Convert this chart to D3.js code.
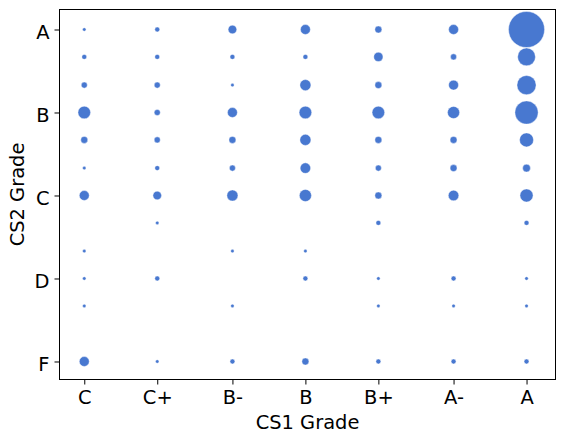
<!DOCTYPE html>
<html>
<head>
<meta charset="utf-8">
<script src="https://cdn.jsdelivr.net/npm/d3@7"></script>
<style>
  body { margin: 0; background: #fff; }
  svg text { font-family: "DejaVu Sans", sans-serif; fill: #000; }
</style>
</head>
<body>
<svg id="chart" width="565" height="442"></svg>
<script>
// CS1 grade (x) and CS2 grade (y) categories, with their grade points
const cs1Grades = ["C", "C+", "B-", "B", "B+", "A-", "A"];
const cs1Points = [2, 2.33, 2.67, 3, 3.33, 3.67, 4];
const cs2Grades = ["A", "A-", "B+", "B", "B-", "C+", "C", "C-", "D+", "D", "D-", "F"];
const cs2Points = [4, 3.67, 3.33, 3, 2.67, 2.33, 2, 1.67, 1.33, 1, 0.67, 0];
const yTickLabels = ["A", "B", "C", "D", "F"];
const yTickPoints = [4, 3, 2, 1, 0];

// student counts per CS1 column, rows in cs2Grades order
const countsC      = [1, 2, 3, 13, 4, 1, 8, 0, 1, 1, 1, 8];
const countsCplus  = [2, 2, 3, 3, 3, 2, 6, 1, 0, 2, 0, 1];
const countsBminus = [6, 2, 1, 8, 4, 3, 10, 0, 1, 0, 1, 2];
const countsB      = [8, 2, 10, 13, 10, 9, 12, 0, 1, 2, 0, 4];
const countsBplus  = [4, 7, 4, 13, 4, 3, 4, 2, 0, 1, 1, 2];
const countsAminus = [8, 3, 8, 12, 4, 4, 9, 0, 0, 2, 1, 2];
const countsA      = [106, 26, 30, 44, 16, 5, 14, 2, 0, 1, 1, 2];

(function() {
    const columns = [countsC, countsCplus, countsBminus, countsB, countsBplus, countsAminus, countsA];
    const points = [];
    columns.forEach((col, i) => {
        col.forEach((n, j) => {
            if (n > 0) points.push({ x: cs1Points[i], y: cs2Points[j], n: n });
        });
    });

    const fontSize = "19.44px";
    const plot = { left: 59.5, right: 555.5, top: 9.5, bottom: 379.5 };
    const svg = d3.select("#chart");

    const x = d3.scaleLinear().domain([1.888, 4.131]).range([plot.left, plot.right]);
    const y = d3.scaleLinear().domain([-0.217, 4.241]).range([plot.bottom, plot.top]);
    const r = d3.scaleSqrt().domain([0, 106]).range([0, 18]);

    // bubbles, biggest first so small ones stay on top
    svg.append("g")
        .selectAll("circle")
        .data(points.sort((a, b) => b.n - a.n))
        .enter().append("circle")
        .attr("cx", d => x(d.x))
        .attr("cy", d => y(d.y))
        .attr("r", d => r(d.n))
        .attr("fill", "#4878d0")
        .attr("stroke", "#fff")
        .attr("stroke-width", 0.4);

    const xAxis = d3.axisBottom(x)
        .tickValues(cs1Points)
        .tickFormat((d, i) => cs1Grades[i])
        .tickSize(5).tickPadding(4);
    const gx = svg.append("g")
        .attr("transform", `translate(0,${plot.bottom})`)
        .call(xAxis);

    const yAxis = d3.axisLeft(y)
        .tickValues(yTickPoints)
        .tickFormat((d, i) => yTickLabels[i])
        .tickSize(5).tickPadding(5);
    const gy = svg.append("g")
        .attr("transform", `translate(${plot.left},0)`)
        .call(yAxis);

    [gx, gy].forEach(g => {
        g.select(".domain").remove();
        g.selectAll("text").attr("font-size", fontSize).attr("fill", "#000");
        g.selectAll("line").attr("stroke", "#000").attr("stroke-width", 1);
    });
    gx.selectAll("text").attr("dy", "0.8em");
    gy.selectAll("text").attr("dy", "0.46em");

    // frame
    svg.append("rect")
        .attr("x", plot.left)
        .attr("y", plot.top)
        .attr("width", plot.right - plot.left)
        .attr("height", plot.bottom - plot.top)
        .attr("fill", "none")
        .attr("stroke", "#000")
        .attr("stroke-width", 1);

    svg.append("text")
        .attr("x", (plot.left + plot.right) / 2)
        .attr("y", 429)
        .attr("text-anchor", "middle")
        .attr("font-size", fontSize)
        .text("CS1 Grade");

    svg.append("text")
        .attr("transform", `translate(24,${(plot.top + plot.bottom) / 2}) rotate(-90)`)
        .attr("text-anchor", "middle")
        .attr("font-size", fontSize)
        .text("CS2 Grade");
})();
</script>
</body>
</html>
